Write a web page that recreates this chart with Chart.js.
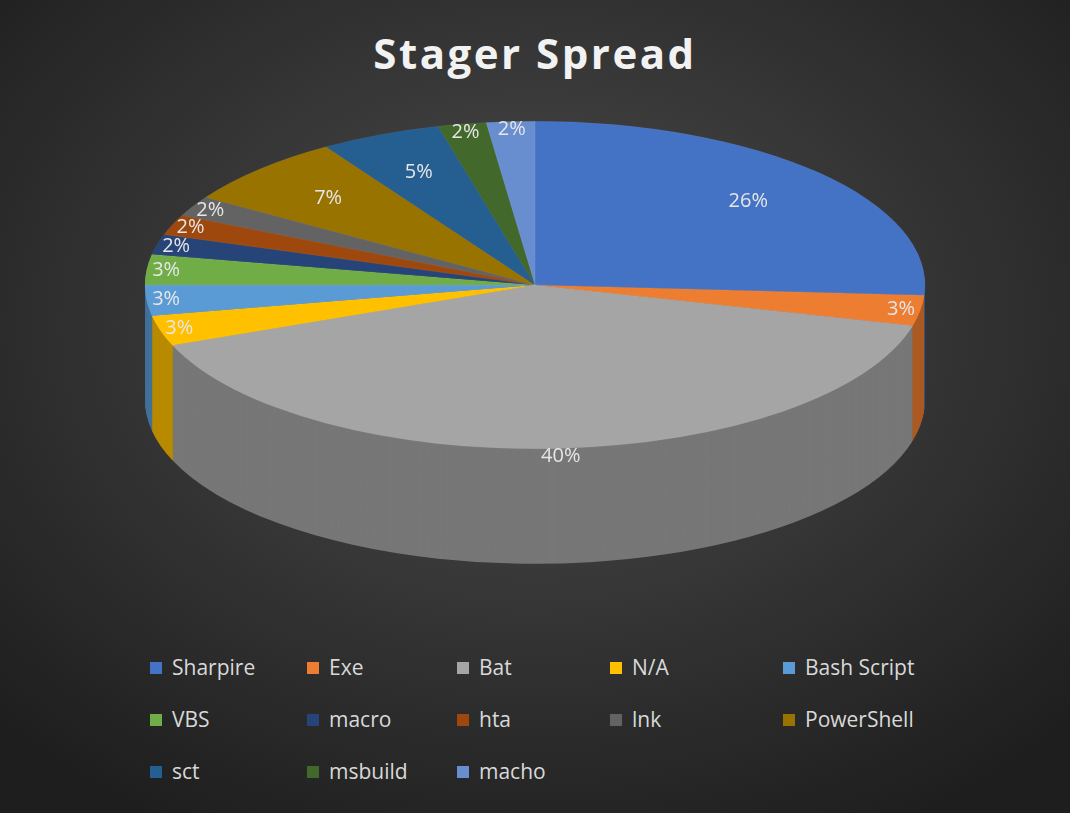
<!DOCTYPE html>
<html>
<head>
<meta charset="utf-8">
<script src="https://cdn.jsdelivr.net/npm/chart.js@4/dist/chart.umd.min.js"></script>
<style>
  html, body { margin: 0; padding: 0; }
  body {
    width: 1070px; height: 813px; overflow: hidden; position: relative;
    background: radial-gradient(ellipse 70% 70% at 50% 40%, #4d4d4d 0%, #333 55%, #1e1e1e 100%);
    font-family: "Open Sans", "Liberation Sans", sans-serif;
  }
  #title {
    position: absolute; top: 24px; left: 0; width: 100%; text-align: center;
    color: #f2f2f2; font-size: 42px; font-weight: bold; letter-spacing: 2.5px;
  }
  #wrap { position: absolute; left: 0; top: 0; width: 1070px; height: 630px; }
  #legend { position: absolute; left: 0; top: 653px; width: 1070px; }
  .item { position: absolute; color: #d9d9d9; font-size: 21px; white-space: nowrap; }
  .item span.sw { display: inline-block; width: 12px; height: 12px; margin-right: 10px; vertical-align: 1px; }
</style>
</head>
<body>
<div id="title">Stager Spread</div>
<div id="wrap"><canvas id="pie"></canvas></div>
<div id="legend"></div>
<script>
const labels = ['Sharpire', 'Exe', 'Bat', 'N/A', 'Bash Script', 'VBS', 'macro', 'hta', 'lnk', 'PowerShell', 'sct', 'msbuild', 'macho'];
const shares = [26, 3, 40, 3, 3, 3, 2, 2, 2, 7, 5, 2, 2];
const colors = ['#4472C4', '#ED7D31', '#A5A5A5', '#FFC000', '#5B9BD5', '#70AD47', '#264478', '#9E480E', '#636363', '#997300', '#255E91', '#43682B', '#698ED0'];

const squash = 0.42;    // vertical tilt of the pie
const depth = 115;      // thickness in screen px

function darken(hex, f) {
    const n = parseInt(hex.slice(1), 16);
    const r = Math.round((n >> 16) * f), g = Math.round(((n >> 8) & 255) * f), b = Math.round((n & 255) * f);
    return `rgb(${r},${g},${b})`;
}

const tilt = {
    id: 'tilt',
    beforeDatasetsDraw(chart) {
        const ctx = chart.ctx;
        const arcs = chart.getDatasetMeta(0).data;
        const cx = arcs[0].x, cy = arcs[0].y;
        ctx.save();
        ctx.translate(cx, cy);
        ctx.scale(1, squash);
        ctx.translate(-cx, -cy);
        // side walls: stack darker copies downward
        for (let d = depth; d > 0; d -= 1) {
            const off = d / squash;
            arcs.forEach((a, i) => {
                ctx.beginPath();
                ctx.moveTo(a.x, a.y + off);
                ctx.arc(a.x, a.y + off, a.outerRadius, a.startAngle, a.endAngle);
                ctx.closePath();
                ctx.fillStyle = darken(colors[i], 0.72);
                ctx.fill();
            });
        }
    },
    afterDatasetsDraw(chart) {
        chart.ctx.restore();
        const ctx = chart.ctx;
        const arcs = chart.getDatasetMeta(0).data;
        ctx.save();
        ctx.font = '20px "Open Sans", "Liberation Sans", sans-serif';
        ctx.fillStyle = '#e6e6e6';
        ctx.textAlign = 'center';
        ctx.textBaseline = 'middle';
        arcs.forEach((a, i) => {
            const mid = (a.startAngle + a.endAngle) / 2;
            let k = 0.75;
            if (i === 2) k = 1.05;
            if (shares[i] <= 3) k = 0.95;
            const x = a.x + Math.cos(mid) * a.outerRadius * k;
            const y = a.y + Math.sin(mid) * a.outerRadius * k * squash;
            ctx.fillText(shares[i] + '%', x, y);
        });
        ctx.restore();
    }
};

new Chart(document.getElementById('pie'), {
    type: 'pie',
    data: {
        labels: labels,
        datasets: [{
            data: shares,
            backgroundColor: colors,
            borderColor: 'rgba(255,255,255,0.15)',
            borderWidth: 0.5,
            radius: 390,
            clip: false
        }]
    },
    options: {
        responsive: true,
        maintainAspectRatio: false,
        animation: false,
        events: [],
        layout: { padding: { bottom: 60 } },
        plugins: { legend: { display: false }, tooltip: { enabled: false } }
    },
    plugins: [tilt]
});

// legend laid out in the same 5-column grid as the reference
const colX = [150, 307, 457, 610, 783];
const legend = document.getElementById('legend');
labels.forEach((name, i) => {
    const el = document.createElement('div');
    el.className = 'item';
    el.style.left = colX[i % 5] + 'px';
    el.style.top = (Math.floor(i / 5) * 52) + 'px';
    el.innerHTML = `<span class="sw" style="background:${colors[i]}"></span>`;
    el.appendChild(document.createTextNode(name));
    legend.appendChild(el);
});
</script>
</body>
</html>
